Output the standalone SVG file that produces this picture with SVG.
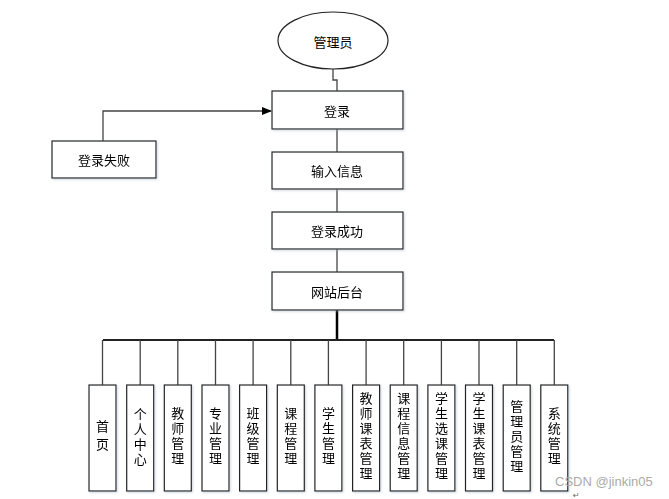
<svg xmlns="http://www.w3.org/2000/svg" width="669" height="499" viewBox="0 0 669 499">
<style>
.box{fill:#fff;stroke:#222;stroke-width:1.2}
.t{font-family:"Noto Sans CJK SC","Liberation Sans",sans-serif;font-size:13px;fill:#000;text-anchor:middle;dominant-baseline:central}
.v{font-family:"Noto Sans CJK SC","Liberation Sans",sans-serif;font-size:13px;fill:#000;text-anchor:middle;writing-mode:vertical-rl;letter-spacing:2px}
.ln{fill:none;stroke:#444;stroke-width:1.3}
.wm{font-family:"Liberation Sans",sans-serif;font-size:13px;fill:#aaa}
</style>
<defs>
<marker id="arr" markerWidth="10" markerHeight="8" refX="9" refY="4" orient="auto" markerUnits="userSpaceOnUse">
<path d="M0,0 L10,4 L0,8 Z" fill="#000"/>
</marker>
<filter id="sh" x="-10%" y="-10%" width="130%" height="130%"><feDropShadow dx="1" dy="1" stdDeviation="0.8" flood-color="#9ab" flood-opacity="0.5"/></filter>
</defs>
<rect width="669" height="499" fill="#fff"/>
<g id="connectors">
<path class="ln" d="M333,69 V80 H337 V91"/>
<path class="ln" d="M337,129 V152"/>
<path class="ln" d="M337,189 V212"/>
<path class="ln" d="M337,249 V272"/>
<path d="M337,310 V340" stroke="#000" stroke-width="2.5" fill="none"/>
<path d="M103,340 H554" stroke="#222" stroke-width="2" fill="none"/>
<path class="ln" d="M103,141 V111 H271" stroke="#000" marker-end="url(#arr)"/>
<g class="ln">
<path d="M102.5,340 V385"/><path d="M140.2,340 V385"/><path d="M177.8,340 V385"/><path d="M215.5,340 V385"/><path d="M253.1,340 V385"/><path d="M290.8,340 V385"/><path d="M328.4,340 V385"/><path d="M366.1,340 V385"/><path d="M403.7,340 V385"/><path d="M441.4,340 V385"/><path d="M479,340 V385"/><path d="M516.7,340 V385"/><path d="M554.3,340 V385"/>
</g>
</g>
<g id="admin"><ellipse cx="333" cy="40.5" rx="55" ry="28.5" class="box"/><text class="t" x="333" y="41">管理员</text></g>
<g id="login" filter="url(#sh)"><rect class="box" x="272" y="91" width="131" height="38"/><text class="t" x="337" y="110">登录</text></g>
<g id="input" filter="url(#sh)"><rect class="box" x="272" y="152" width="131" height="37"/><text class="t" x="337" y="170.5">输入信息</text></g>
<g id="success" filter="url(#sh)"><rect class="box" x="272" y="212" width="131" height="37"/><text class="t" x="337" y="230.5">登录成功</text></g>
<g id="backend" filter="url(#sh)"><rect class="box" x="272" y="272" width="131" height="38"/><text class="t" x="337" y="291">网站后台</text></g>
<g id="fail" filter="url(#sh)"><rect class="box" x="52" y="141" width="104" height="37"/><text class="t" x="104" y="159.5">登录失败</text></g>
<g id="m1" filter="url(#sh)"><rect class="box" x="89" y="385" width="27" height="106"/><text class="v" x="102.5" y="438" style="letter-spacing:5px">首页</text></g>
<g id="m2" filter="url(#sh)"><rect class="box" x="126.7" y="385" width="27" height="106"/><text class="v" x="140.2" y="438">个人中心</text></g>
<g id="m3" filter="url(#sh)"><rect class="box" x="164.3" y="385" width="27" height="106"/><text class="v" x="177.8" y="437">教师管理</text></g>
<g id="m4" filter="url(#sh)"><rect class="box" x="202" y="385" width="27" height="106"/><text class="v" x="215.5" y="437">专业管理</text></g>
<g id="m5" filter="url(#sh)"><rect class="box" x="239.6" y="385" width="27" height="106"/><text class="v" x="253.1" y="437">班级管理</text></g>
<g id="m6" filter="url(#sh)"><rect class="box" x="277.3" y="385" width="27" height="106"/><text class="v" x="290.8" y="437">课程管理</text></g>
<g id="m7" filter="url(#sh)"><rect class="box" x="314.9" y="385" width="27" height="106"/><text class="v" x="328.4" y="437">学生管理</text></g>
<g id="m8" filter="url(#sh)"><rect class="box" x="352.6" y="385" width="27" height="106"/><text class="v" x="366.1" y="437">教师课表管理</text></g>
<g id="m9" filter="url(#sh)"><rect class="box" x="390.2" y="385" width="27" height="106"/><text class="v" x="403.7" y="437">课程信息管理</text></g>
<g id="m10" filter="url(#sh)"><rect class="box" x="427.9" y="385" width="27" height="106"/><text class="v" x="441.4" y="437">学生选课管理</text></g>
<g id="m11" filter="url(#sh)"><rect class="box" x="465.5" y="385" width="27" height="106"/><text class="v" x="479" y="437">学生课表管理</text></g>
<g id="m12" filter="url(#sh)"><rect class="box" x="503.2" y="385" width="27" height="106"/><text class="v" x="516.7" y="437">管理员管理</text></g>
<g id="m13" filter="url(#sh)"><rect class="box" x="540.8" y="385" width="27" height="106"/><text class="v" x="554.3" y="437">系统管理</text></g>
<text class="wm" x="555" y="486">CSDN @jinkin05</text>
<text x="573" y="498" font-family="DejaVu Sans,sans-serif" font-size="8" fill="#666">↵</text>
</svg>
